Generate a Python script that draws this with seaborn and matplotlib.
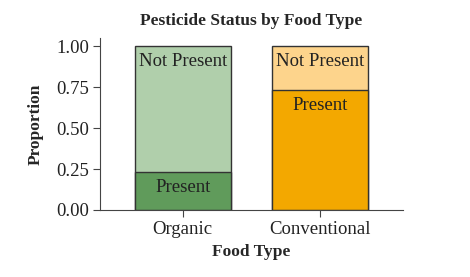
import matplotlib
matplotlib.use("Agg")
import matplotlib.pyplot as plt
import seaborn as sns
import pandas as pd

food_types = ["Organic", "Conventional"]
present = [0.23, 0.73]
not_present = [0.77, 0.27]
present_colors = ["#609b5b", "#f3a800"]
not_present_colors = ["#b0cfab", "#fdd48c"]

sns.set_style("ticks")
plt.rcParams["font.family"] = ["Liberation Serif", "DejaVu Serif"]

df = pd.DataFrame({"Food Type": food_types, "Present": present,
                   "NotPresent": not_present})
df["Total"] = df["Present"] + df["NotPresent"]

fig, ax = plt.subplots(figsize=(4.7, 2.77), dpi=100)
sns.barplot(data=df, x="Food Type", y="Total", hue="Food Type",
            palette=dict(zip(food_types, not_present_colors)), legend=False,
            width=0.7, edgecolor="#333333", linewidth=1.0, saturation=1, ax=ax)
sns.barplot(data=df, x="Food Type", y="Present", hue="Food Type",
            palette=dict(zip(food_types, present_colors)), legend=False,
            width=0.7, edgecolor="#333333", linewidth=1.0, saturation=1, ax=ax)

for i, (p, t) in enumerate(zip(df["Present"], df["Total"])):
    ax.annotate("Not Present", (i, t), xytext=(0, -5), textcoords="offset points",
                ha="center", va="top", fontsize=13.5, color="#222222")
    ax.annotate("Present", (i, p), xytext=(0, -5), textcoords="offset points",
                ha="center", va="top", fontsize=13.5, color="#222222")

ax.set_xlim(-0.6, 1.6)
ax.set_ylim(0, 1.05)
ax.set_yticks([0, 0.25, 0.5, 0.75, 1.0])
ax.set_yticklabels(["0.00", "0.25", "0.50", "0.75", "1.00"])
ax.tick_params(labelsize=13.5, colors="#444444", labelcolor="#222222", length=5, pad=3)
ax.set_title("Pesticide Status by Food Type", fontsize=12.5, fontweight="bold", pad=9)
ax.set_xlabel("Food Type", fontsize=12.5, fontweight="bold", labelpad=4)
ax.set_ylabel("Proportion", fontsize=12.5, fontweight="bold", labelpad=9)
sns.despine(ax=ax)
for s in ["left", "bottom"]:
    ax.spines[s].set_color("#444444")

fig.subplots_adjust(left=0.213, right=0.857, bottom=0.242, top=0.863)
fig.savefig("out.png", dpi=100)
